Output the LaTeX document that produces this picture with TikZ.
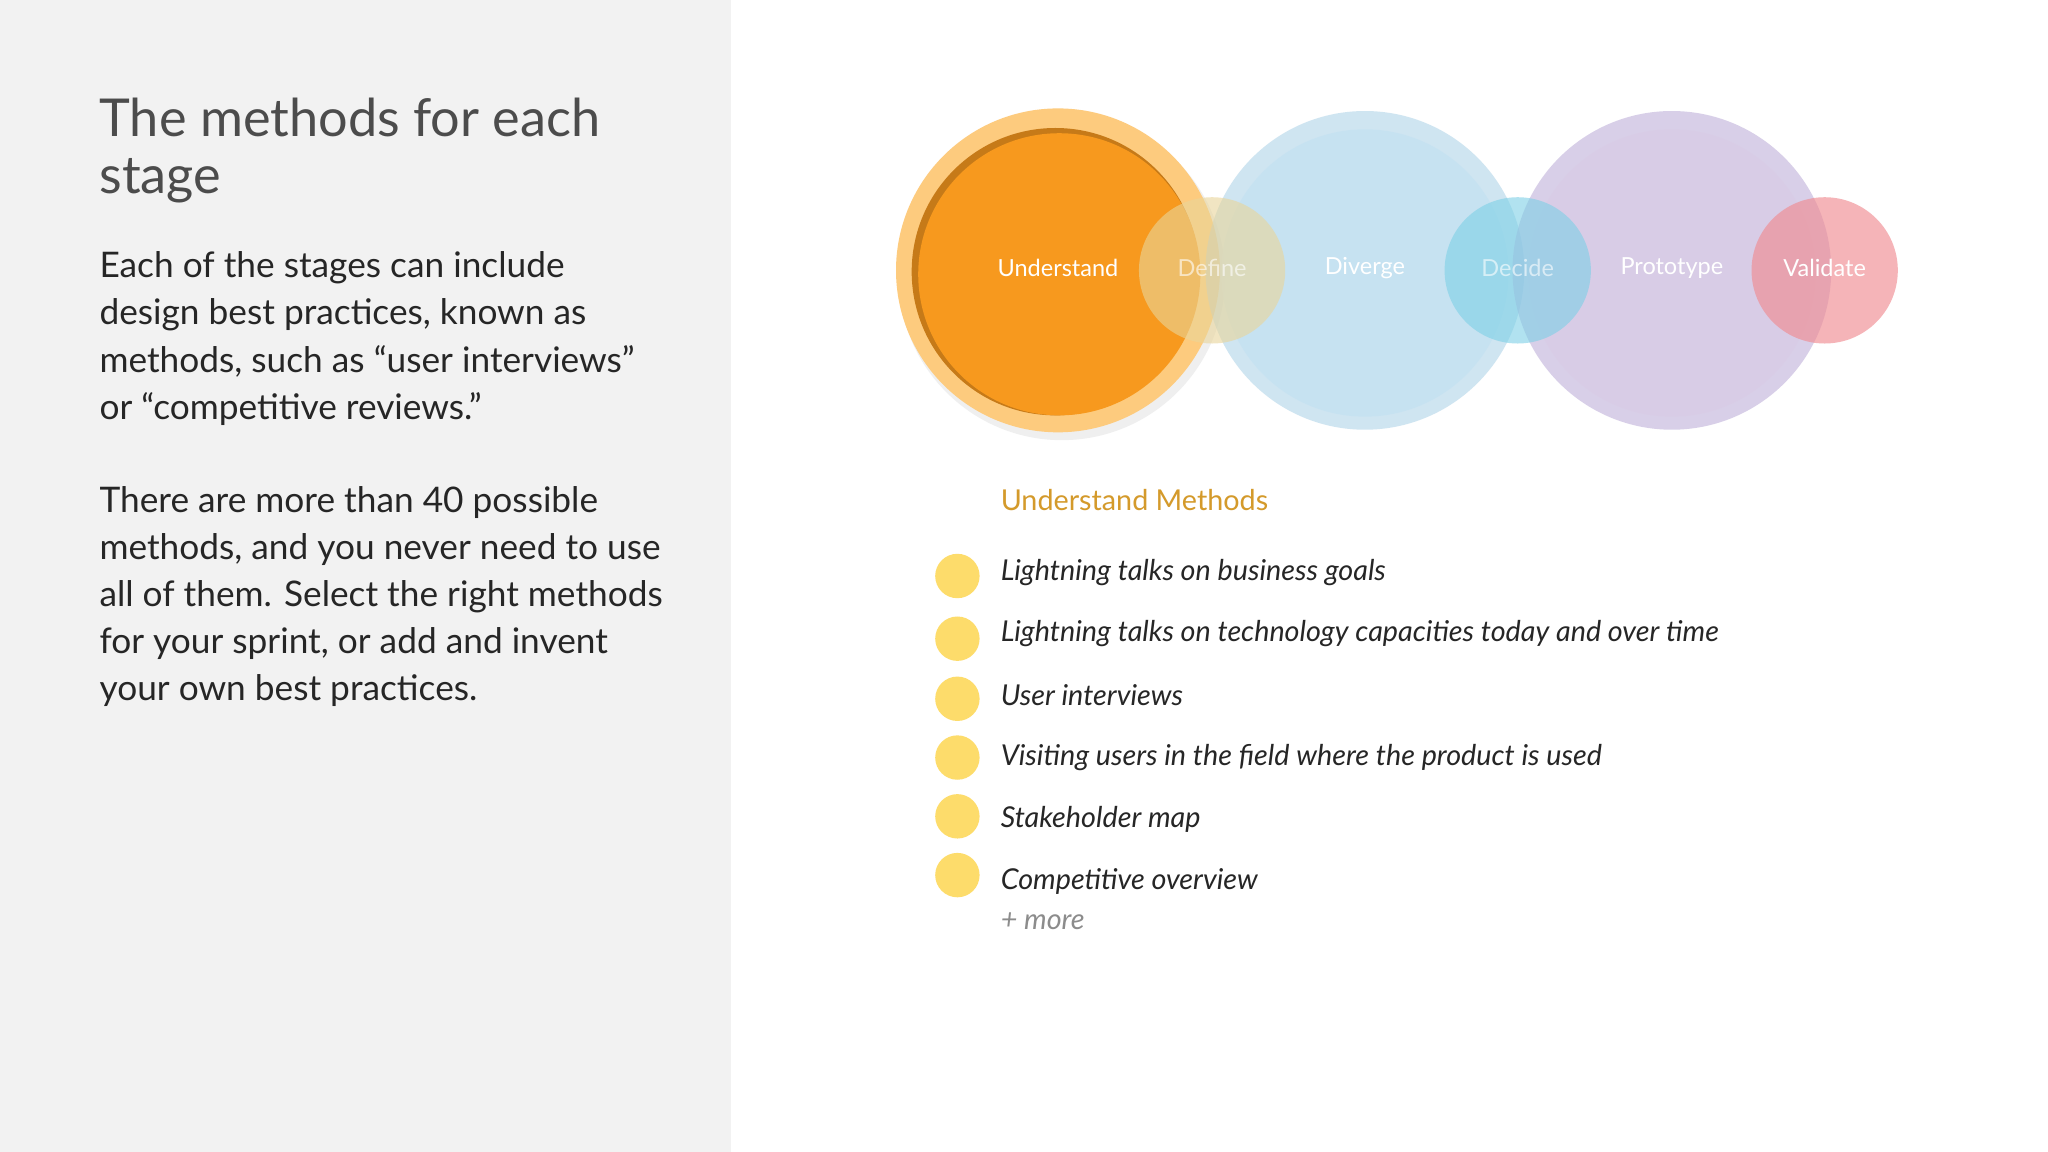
\documentclass[tikz,border=0pt]{standalone}
\usepackage{fontspec}
\setmainfont{Lato}
\begin{document}
\begin{tikzpicture}[x=1pt,y=-1pt,
  body/.style={anchor=west,inner sep=0pt,text=black!85,font=\fontsize{27}{32}\selectfont},
  ttl/.style={anchor=west,inner sep=0pt,text=black!70,font=\fontsize{40}{46}\selectfont},
  item/.style={anchor=west,inner sep=0pt,text=black!85,font=\fontsize{22}{26}\selectfont\itshape},
  bul/.style={circle,fill=bulletc,minimum size=34pt,inner sep=0pt},
  lab/.style={text=white,font=\fontsize{18}{22}\selectfont}]
\definecolor{bulletc}{HTML}{FDDC6B}
\definecolor{org}{HTML}{F7991E}
\definecolor{orgring}{HTML}{FDCB7E}
\definecolor{blu}{HTML}{C6E2F1}
\definecolor{bluring}{HTML}{A9D0E6}
\definecolor{cyan2}{HTML}{7DD0E6}
\definecolor{pur}{HTML}{D8CCE6}
\definecolor{purring}{HTML}{BFB0DA}
\definecolor{red2}{HTML}{F08C92}
\definecolor{ylw}{HTML}{E9D59A}
\definecolor{ttlc}{HTML}{D49A2B}
\fill[white] (0,0) rectangle (1568,882);
\fill[black!5] (0,0) rectangle (560,882);
\useasboundingbox (0,0) rectangle (1568,882);
% left text
\node[ttl] (t1) at (76,90) {The methods for each};
\node[ttl] (t2) at (76,138) {stage};
\node[body] (b1) at (76,205) {Each of the stages can include};
\node[body] (b2) at (76,241) {design best practices, known as};
\node[body] (b3) at (76,277) {methods, such as “user interviews”};
\node[body] (b4) at (76,313) {or “competitive reviews.”};
\node[body] (b5) at (76,385) {There are more than 40 possible};
\node[body] (b6) at (76,421) {methods, and you never need to use};
\node[body] (b7) at (76,457) {all of them. Select the right methods};
\node[body] (b8) at (76,493) {for your sprint, or add and invent};
\node[body] (b9) at (76,529) {your own best practices.};
% circles
\fill[black!12,opacity=0.5] (813,212) circle (125);
\fill[orgring] (810,207) circle (124);
\fill[org!80!black] (808,208) circle (110);
\fill[org] (811,210) circle (108);
\fill[bluring,opacity=0.55] (1045,207) circle (122);
\fill[blu,opacity=0.9] (1045,209) circle (110);
\fill[purring,opacity=0.6] (1280,207) circle (122);
\fill[pur,opacity=0.9] (1280,209) circle (110);
\fill[ylw,opacity=0.6] (928,207) circle (56);
\fill[cyan2,opacity=0.6] (1162,207) circle (56);
\fill[red2,opacity=0.65] (1397,207) circle (56);
\node[lab] (u) at (810,205) {Understand};
\node[lab,opacity=0.6] (d1) at (928,205) {Define};
\node[lab] (dv) at (1045,205) {Diverge};
\node[lab,opacity=0.6] (dc) at (1162,205) {Decide};
\node[lab] (p) at (1280,205) {Prototype};
\node[lab] (v) at (1397,205) {Validate};
% methods
\node[anchor=west,inner sep=0pt,text=ttlc,font=\fontsize{22}{26}\selectfont] (mt) at (766,383) {Understand Methods};
\node[bul] (c1) at (733,441) {}; \node[item] (i1) at (766,438) {Lightning talks on business goals};
\node[bul] (c2) at (733,489) {}; \node[item] (i2) at (766,485) {Lightning talks on technology capacities today and over time};
\node[bul] (c3) at (733,535) {}; \node[item] (i3) at (766,532) {User interviews};
\node[bul] (c4) at (733,580) {}; \node[item] (i4) at (766,580) {Visiting users in the field where the product is used};
\node[bul] (c5) at (733,625) {}; \node[item] (i5) at (766,627) {Stakeholder map};
\node[bul] (c6) at (733,670) {}; \node[item] (i6) at (766,675) {Competitive overview};
\node[item,text=black!45] (more) at (766,705) {+ more};
\end{tikzpicture}
\end{document}
